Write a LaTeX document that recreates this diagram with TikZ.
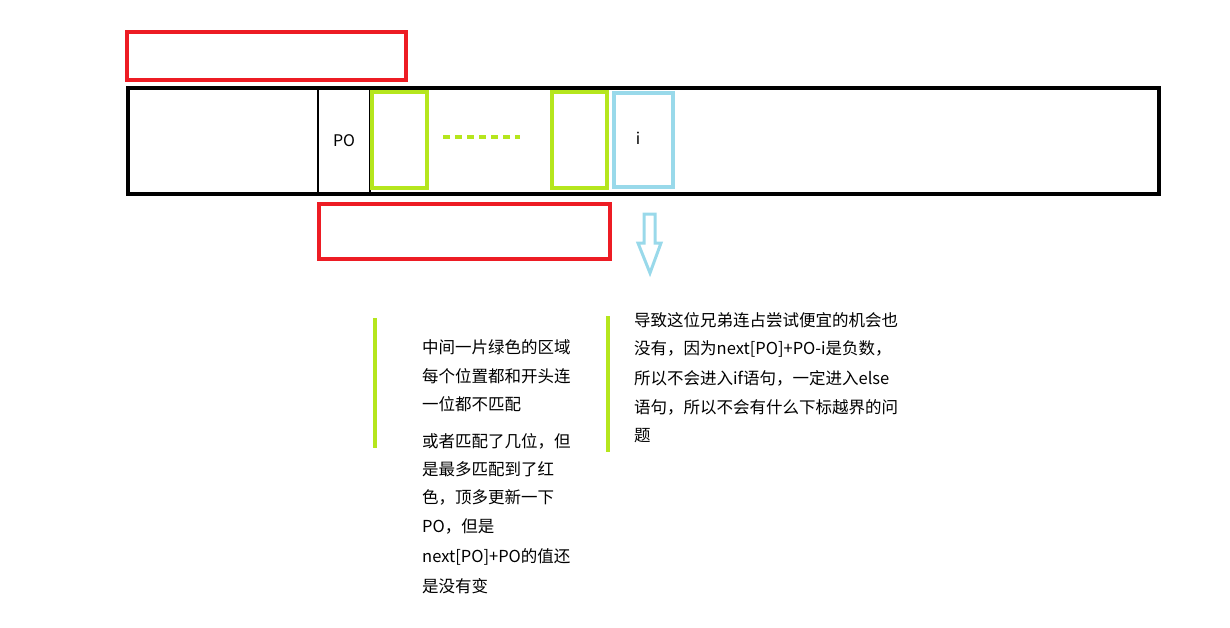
\documentclass[tikz,border=0pt]{standalone}
\usepackage{fontspec}
\newfontfamily\cjk{Noto Sans CJK SC}
\definecolor{rd}{RGB}{237,28,36}
\definecolor{gr}{RGB}{181,230,29}
\definecolor{lb}{RGB}{153,217,234}
\begin{document}
\begin{tikzpicture}[x=1pt,y=-1pt,
  redbox/.style={draw=rd,line width=3.5pt},
  grbox/.style={draw=gr,line width=3.5pt},
  txt/.style={font=\cjk\fontsize{16.5}{18}\selectfont,anchor=west,inner sep=0pt}]
\useasboundingbox (0,0) rectangle (1230,627);
\node[redbox,minimum width=279pt,minimum height=48pt,inner sep=0pt] (r1) at (266.5,56) {};
\draw[line width=3.5pt] (128,88) rectangle (1159,194);
\node[draw,line width=2.5pt,minimum width=52pt,minimum height=106pt,inner sep=0pt,font=\cjk\fontsize{16}{18}\selectfont] (po) at (344,141) {PO};
\node[grbox,minimum width=55pt,minimum height=96pt,inner sep=0pt] (g1) at (399.5,140) {};
\node[grbox,minimum width=55pt,minimum height=96pt,inner sep=0pt] (g2) at (579.5,140) {};
\coordinate (d1) at (443,137); \coordinate (d2) at (520,137);
\draw[gr,line width=3.5pt,dash pattern=on 7pt off 5pt] (d1) -- (d2);
\node[draw=lb,line width=3.5pt,minimum width=59pt,minimum height=94pt,inner sep=0pt] (ib) at (643.5,140) {};
\node[font=\cjk\fontsize{16}{18}\selectfont,inner sep=0pt] (il) at (638,138) {i};
\node[redbox,minimum width=291pt,minimum height=55pt,inner sep=0pt] (r2) at (464.5,231.5) {};
\draw[lb,line width=3pt,line join=miter] (644,214) -- (655,214) -- (655,243) -- (661,243) -- (650,273) -- (638,243) -- (644,243) -- cycle;
\draw[gr,line width=3.5pt] (375,318) -- (375,448);
\draw[gr,line width=3.5pt] (608,316) -- (608,452);
\foreach \t/\y in {中间一片绿色的区域/347,每个位置都和开头连/376,一位都不匹配/404,或者匹配了几位，但/441,是最多匹配到了红/469,色，顶多更新一下/497,PO，但是/526,next[PO]+PO的值还/557,是没有变/586}
  \node[txt] at (422,\y) {\t};
\foreach \t/\y in {导致这位兄弟连占尝试便宜的机会也/320,没有，因为next[PO]+PO-i是负数，/349,所以不会进入if语句，一定进入else/378,语句，所以不会有什么下标越界的问/407,题/436}
  \node[txt] at (634,\y) {\t};
\end{tikzpicture}
\end{document}
